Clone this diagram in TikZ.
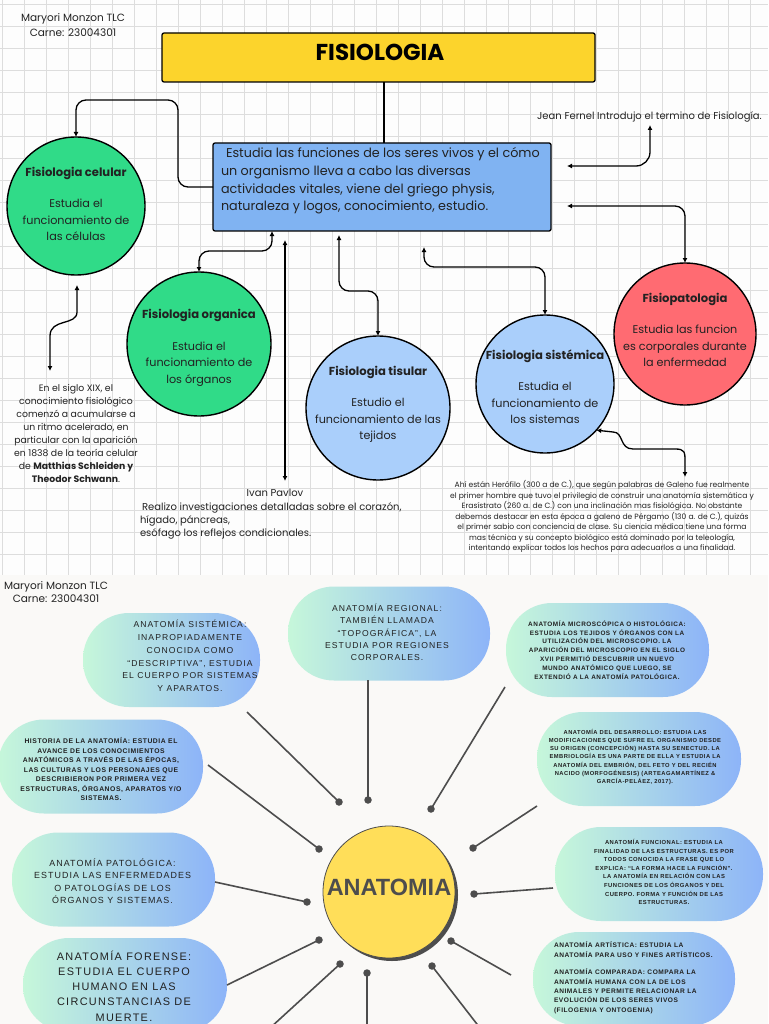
\documentclass[tikz,border=0pt]{standalone}
\usepackage{fontspec}
\setmainfont{Poppins}
\newfontfamily\pillfont[LetterSpace=12]{Liberation Sans}
\newfontfamily\pillfontb[LetterSpace=8]{Liberation Sans}
\newfontfamily\anafont{Liberation Sans}
\newcommand\ctitlefont{\fontsize{11.6}{13}\selectfont\bfseries}
\usetikzlibrary{arrows.meta,shadows}
\definecolor{gridc}{HTML}{DDDDDD}
\definecolor{topbg}{HTML}{FDFDFD}
\definecolor{botbg}{HTML}{FAF9F7}
\definecolor{titley}{HTML}{FCD42C}
\definecolor{boxblue}{HTML}{80B3F2}
\definecolor{cgreen}{HTML}{30DB88}
\definecolor{cblue}{HTML}{AACFFB}
\definecolor{cred}{HTML}{FF6B72}
\definecolor{mint}{HTML}{C6F7DA}
\definecolor{pblue}{HTML}{8DB4F8}
\definecolor{ink}{HTML}{222222}
\definecolor{ana}{HTML}{FFDE59}
\definecolor{anaink}{HTML}{4D4D4D}
\begin{document}
\begin{tikzpicture}[x=1pt,y=-1pt,
  every node/.style={inner sep=0pt, outer sep=0pt},
  conn/.style={line width=1.3pt, draw=black},
  rc/.style={rounded corners=10pt},
  tip/.style={-{Latex[length=5pt,width=5pt]}},
  tips/.style={{Latex[length=5pt,width=5pt]}-{Latex[length=5pt,width=5pt]}},
  circ/.style={circle, draw=black, line width=1.4pt},
  ctext/.style={align=center, text=ink, font=\fontsize{11.2}{16.5}\selectfont},
  note/.style={align=center, text=ink},
  pill/.style={rounded corners=46pt, left color=mint, right color=pblue, draw=none, minimum height=94pt},
  ptext/.style={align=center, text=ink},
  ray/.style={line width=1.6pt, draw=anaink},
  dot/.style={circle, fill=anaink, minimum size=7.5pt},
  gridline/.style={draw=gridc, line width=0.5pt}
]
\useasboundingbox (0,0) rectangle (768,1024);
\clip (0,0) rectangle (768,1024);
% backgrounds
\fill[topbg] (0,0) rectangle (768,575);
\foreach \i in {0,...,35} \draw[gridline] ({\i*22+2},0) -- ({\i*22+2},575);
\foreach \j in {0,...,26} \draw[gridline] (0,{\j*22+4}) -- (768,{\j*22+4});
\fill[botbg] (0,575) rectangle (768,1024);

% ---------------- FISIOLOGIA ----------------
\node[note, font=\fontsize{10.5}{15}\selectfont] (auth1) at (73,25) {Maryori Monzon TLC\\Carne: 23004301};

\node[draw=black, line width=1.3pt, fill=titley, rounded corners=2pt, minimum width=433pt, minimum height=49pt] (title) at (378.5,57.5) {};
\node[font=\fontsize{23}{26}\selectfont\bfseries, text=black] (titletext) at (380,52) {FISIOLOGIA};

\node[draw=black, line width=1.3pt, fill=boxblue, rounded corners=2pt, minimum width=338pt, minimum height=88pt] (blue) at (382,187) {};
\node[anchor=west, align=left, text=ink, font=\fontsize{12.75}{17.7}\selectfont] (bluetext) at (221,181)
 {\hspace*{5pt}Estudia las funciones de los seres vivos y el cómo\\un organismo lleva a cabo las diversas\\actividades vitales, viene del griego physis,\\naturaleza y logos, conocimiento, estudio.};

\node[circ, fill=cgreen, minimum size=138pt] (cel) at (76,206) {};
\node[ctext] (celt) at (76,204) {{\ctitlefont Fisiologia celular}\\[15pt]Estudia el\\funcionamiento de\\las células};

\node[circ, fill=cgreen, minimum size=144pt] (org) at (199,344) {};
\node[ctext] (orgt) at (199,348) {{\ctitlefont Fisiologia organica}\\[15pt]Estudia el\\funcionamiento de\\los órganos};

\node[circ, fill=cblue, minimum size=144pt] (tis) at (378,408) {};
\node[ctext] (tist) at (378,404.5) {{\ctitlefont Fisiologia tisular}\\[15pt]Estudio el\\funcionamiento de las\\tejidos};

\node[circ, fill=cblue, minimum size=138pt] (sis) at (545,384) {};
\node[ctext] (sist) at (545,386.5) {{\ctitlefont Fisiologia sistémica}\\[15pt]Estudia el\\funcionamiento de\\los sistemas};

\node[circ, fill=cred, minimum size=142pt] (pat) at (685,334) {};
\node[ctext] (patt) at (685,330) {{\ctitlefont Fisiopatologia}\\[15pt]Estudia las funcion\\es corporales durante\\la enfermedad};

\node[note, font=\fontsize{10}{12}\selectfont] (jean) at (649.5,117) {Jean Fernel Introdujo el termino de Fisiología.};

\node[note, font=\fontsize{9.3}{13}\selectfont] (siglo) at (76,433.5) {En el siglo XIX, el\\conocimiento fisiológico\\comenzó a acumularse a\\un ritmo acelerado, en\\particular con la aparición\\en 1838 de la teoría celular\\de \textbf{Matthias Schleiden y}\\\textbf{Theodor Schwann}.};

\node[note, font=\fontsize{10}{13}\selectfont] (pavname) at (275,493) {Ivan Pavlov};
\node[anchor=west, align=left, text=ink, font=\fontsize{10}{13}\selectfont] (pavtext) at (140,521) {\hspace*{2pt}Realizo investigaciones detalladas sobre el corazón,\\hígado, páncreas,\\esófago los reflejos condicionales.};

\node[note, font=\fontsize{7.6}{10.5}\selectfont] (hero) at (602,516.5) {Ahí están Herófilo (300 a de C.), que según palabras de Galeno fue realmente\\el primer hombre que tuvo el privilegio de construir una anatomía sistemática y\\Erasístrato (260 a. de C.) con una inclinación mas fisiológica. No obstante\\debemos destacar en esta época a galeno de Pérgamo (130 a. de C.), quizás\\el primer sabio con conciencia de clase. Su ciencia médica tiene una forma\\mas técnica y su concepto biológico está dominado por la teleología,\\intentando explicar todos los hechos para adecuarlos a una finalidad.};

% connector end points
\coordinate (c384) at (384,100);
\coordinate (orgA) at (272,231);
\coordinate (pv1) at (285,240);
\coordinate (pv2) at (285,481);
\coordinate (tisA) at (339,235);
\coordinate (sisA) at (424,247);
\coordinate (patA) at (567,206);
\coordinate (jeanA) at (567,166);
\coordinate (jeanB) at (650,125);
\coordinate (heroA) at (685,477);
\coordinate (celA) at (77,285);
\coordinate (sigloA) at (50,371);

\draw[conn] (title.south -| c384) -- (blue.north -| c384);
\draw[conn,rc,tip] (blue.west) -- (178,187) -- (178,100) -- (76,100) -- (cel.north);
\draw[conn,rc,tips] (orgA) -- (272,251) -- (199,251) -- (org.north);
\draw[conn,tips] (pv1) -- (pv2);
\draw[conn,rc,tips] (tisA) -- (339,291) -- (378,291) -- (tis.north);
\draw[conn,rc,tips] (sisA) -- (424,267) -- (545,267) -- (sis.north);
\draw[conn,rc,tips] (patA) -- (685,206) -- (pat.north);
\draw[conn,rounded corners=14pt,tips] (jeanA) -- (650,166) -- (jeanB);
\draw[conn,tips] (sis.-42) -- (613,432) .. controls (624,432) and (619,449) .. (633,449) -- (675,449) .. controls (685,449) and (685,452) .. (685,462) -- (heroA);
\draw[conn,tips] (celA) -- (77,312) .. controls (77,326) and (50,318) .. (50,336) -- (sigloA);

% ---------------- ANATOMIA ----------------
\node[note, font=\fontsize{10.5}{12.5}\selectfont] (auth2) at (56,592) {Maryori Monzon TLC\\Carne: 23004301};

\node[pill, minimum width=177pt] (psis) at (171.5,660) {};
\node[pill, minimum width=202pt] (preg) at (389,633.5) {};
\node[pill, minimum width=203pt] (pmic) at (607.5,650) {};
\node[pill, minimum width=205pt] (phis) at (100.5,766.5) {};
\node[pill, minimum width=204pt] (pdes) at (639,759) {};
\node[pill, minimum width=203pt] (ppat) at (113.5,879.5) {};
\node[pill, minimum width=208pt] (pfun) at (659,874) {};
\node[pill, minimum width=204pt] (pfor) at (125,985) {};
\node[pill, minimum width=202pt] (part) at (634,979) {};

\node[ptext, font=\pillfont\fontsize{8.6}{12.7}\selectfont] (psist) at (190,656) {ANATOMÍA SISTÉMICA:\\INAPROPIADAMENTE\\CONOCIDA COMO\\“DESCRIPTIVA”, ESTUDIA\\EL CUERPO POR SISTEMAS\\Y APARATOS.};
\node[ptext, font=\pillfont\fontsize{8.6}{12.3}\selectfont] (pregt) at (387,632.5) {ANATOMÍA REGIONAL:\\TAMBIÉN LLAMADA\\“TOPOGRÁFICA”, LA\\ESTUDIA POR REGIONES\\CORPORALES.};
\node[ptext, font=\pillfontb\bfseries\fontsize{6.4}{8.9}\selectfont] (pmict) at (607,650) {ANATOMÍA MICROSCÓPICA O HISTOLÓGICA:\\ESTUDIA LOS TEJIDOS Y ÓRGANOS CON LA\\UTILIZACIÓN DEL MICROSCOPIO. LA\\APARICIÓN DEL MICROSCOPIO EN EL SIGLO\\XVII PERMITIÓ DESCUBRIR UN NUEVO\\MUNDO ANATÓMICO QUE LUEGO, SE\\EXTENDIÓ A LA ANATOMÍA PATOLÓGICA.};
\node[ptext, font=\pillfontb\bfseries\fontsize{6.8}{9.5}\selectfont] (phist) at (101,769.5) {HISTORIA DE LA ANATOMÍA: ESTUDIA EL\\AVANCE DE LOS CONOCIMIENTOS\\ANATÓMICOS A TRAVÉS DE LAS ÉPOCAS,\\LAS CULTURAS Y LOS PERSONAJES QUE\\DESCRIBIERON POR PRIMERA VEZ\\ESTRUCTURAS, ÓRGANOS, APARATOS Y/O\\SISTEMAS.};
\node[ptext, font=\pillfontb\bfseries\fontsize{5.8}{8.1}\selectfont] (pdest) at (635,757) {ANATOMÍA DEL DESARROLLO: ESTUDIA LAS\\MODIFICACIONES QUE SUFRE EL ORGANISMO DESDE\\SU ORIGEN (CONCEPCIÓN) HASTA SU SENECTUD. LA\\EMBRIOLOGÍA ES UNA PARTE DE ELLA Y ESTUDIA LA\\ANATOMÍA DEL EMBRIÓN, DEL FETO Y DEL RECIÉN\\NACIDO (MORFOGÉNESIS) (ARTEAGAMARTÍNEZ \&\\GARCÍA-PELÁEZ, 2017).};
\node[ptext, font=\pillfont\fontsize{8.9}{12.5}\selectfont] (ppatt) at (112.5,881) {ANATOMÍA PATOLÓGICA:\\ESTUDIA LAS ENFERMEDADES\\O PATOLOGÍAS DE LOS\\ÓRGANOS Y SISTEMAS.};
\node[ptext, font=\pillfontb\bfseries\fontsize{5.85}{8.6}\selectfont] (pfunt) at (664,872) {ANATOMÍA FUNCIONAL: ESTUDIA LA\\FINALIDAD DE LAS ESTRUCTURAS. ES POR\\TODOS CONOCIDA LA FRASE QUE LO\\EXPLICA: “LA FORMA HACE LA FUNCIÓN”.\\LA ANATOMÍA EN RELACIÓN CON LAS\\FUNCIONES DE LOS ÓRGANOS Y DEL\\CUERPO. FORMA Y FUNCIÓN DE LAS\\ESTRUCTURAS.};
\node[ptext, font=\pillfont\fontsize{10.9}{15.3}\selectfont] (pfort) at (124,986) {ANATOMÍA FORENSE:\\ESTUDIA EL CUERPO\\HUMANO EN LAS\\CIRCUNSTANCIAS DE\\MUERTE.};
\node[anchor=north west, align=left, text=ink, font=\pillfontb\bfseries\fontsize{6.6}{9.4}\selectfont] (partt) at (554,942) {ANATOMÍA ARTÍSTICA: ESTUDIA LA\\ANATOMÍA PARA USO Y FINES ARTÍSTICOS.\\[8pt]ANATOMÍA COMPARADA: COMPARA LA\\ANATOMÍA HUMANA CON LA DE LOS\\ANIMALES Y PERMITE RELACIONAR LA\\EVOLUCIÓN DE LOS SERES VIVOS\\(FILOGENIA Y ONTOGENIA)};

\node[circle, fill=ana, draw=anaink, line width=0.8pt, minimum size=132pt,
  drop shadow={shadow xshift=3pt, shadow yshift=-3pt, fill=anaink, opacity=1}] (ana) at (389,892) {};
\node[font=\anafont\bfseries\fontsize{23.5}{26}\selectfont, text=anaink] (anat) at (389,887) {ANATOMIA};

% ray end points
\coordinate (s1) at (247,712);
\coordinate (s2) at (368,680);
\coordinate (s3) at (505,687);
\coordinate (s4) at (537,806);
\coordinate (s5) at (553,888);
\coordinate (s6) at (511,975);
\coordinate (s7) at (480,1028);
\coordinate (s8) at (367,1028);
\coordinate (s9) at (270,1028);
\coordinate (s10) at (227,985);
\coordinate (s11) at (215,882);
\coordinate (s12) at (208,765);
\node[dot] (d1) at (339,802) {};
\node[dot] (d2) at (368,800) {};
\node[dot] (d3) at (431,809) {};
\node[dot] (d4) at (473,848) {};
\node[dot] (d5) at (474,894) {};
\node[dot] (d6) at (451,941) {};
\node[dot] (d7) at (432,966) {};
\node[dot] (d8) at (367,973) {};
\node[dot] (d9) at (340,964) {};
\node[dot] (d10) at (319,940) {};
\node[dot] (d11) at (307,902) {};
\node[dot] (d12) at (319,849) {};
\foreach \k in {1,...,12} \draw[ray] (s\k) -- (d\k.center);
\end{tikzpicture}
\end{document}
